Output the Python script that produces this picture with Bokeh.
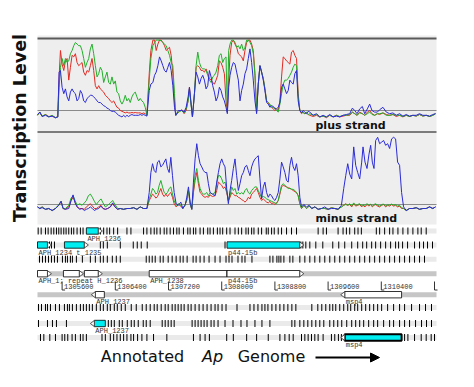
import numpy as np
from bokeh.plotting import figure
from bokeh.models import Range1d, Arrow, NormalHead
from bokeh.core.properties import value
from bokeh.embed import file_html
from bokeh.resources import INLINE

# ---------------------------------------------------------------- data
REGION_START = 1305230          # genome position at the left edge of the tracks
REGION_LEN = 6000               # bp shown

# plus-strand transcription: position (bp from REGION_START) and levels
PLUS_POS = [0, 35, 70, 120, 170, 220, 270, 305, 325, 345,
            370, 395, 420, 445, 470, 495, 520, 545, 570, 595,
            620, 645, 670, 695, 720, 745, 770, 795, 820, 845,
            870, 895, 920, 945, 970, 995, 1020, 1045, 1070, 1095,
            1120, 1145, 1170, 1195, 1220, 1245, 1270, 1295, 1320, 1345,
            1370, 1395, 1420, 1445, 1470, 1495, 1520, 1545, 1570, 1595,
            1620, 1645, 1680, 1705, 1735, 1760, 1785, 1810, 1835, 1860,
            1885, 1910, 1935, 1960, 1985, 2010, 2035, 2060, 2080, 2120,
            2170, 2205, 2235, 2265, 2285, 2305, 2330, 2360, 2385, 2410,
            2435, 2460, 2485, 2510, 2535, 2560, 2585, 2610, 2635, 2660,
            2685, 2710, 2735, 2760, 2785, 2810, 2835, 2855, 2875, 2895,
            2920, 2945, 2970, 2995, 3020, 3045, 3070, 3095, 3120, 3145,
            3170, 3195, 3220, 3245, 3270, 3295, 3320, 3345, 3370, 3395,
            3420, 3445, 3470, 3495, 3520, 3545, 3570, 3595, 3620, 3645,
            3670, 3695, 3720, 3745, 3770, 3795, 3820, 3845, 3870, 3895,
            3920, 3945, 3970, 3995, 4020, 4045, 4070, 4095, 4145, 4195,
            4245, 4295, 4345, 4395, 4445, 4495, 4545, 4595, 4645, 4695,
            4735, 4770, 4805, 4845, 4885, 4920, 4960, 4995, 5030, 5070,
            5110, 5145, 5195, 5245, 5295, 5345, 5395, 5445, 5495, 5545,
            5595, 5645, 5695, 5745, 5795, 5845, 5895, 5945, 5985]
PLUS_RED = [4, 8, 2.5, 5, 2.5, 3, 1, 2, 52, 85,
            68, 60, 72, 75, 48, 64, 79, 77, 81, 70,
            66, 68, 70, 58, 54, 60, 58, 66, 75, 60,
            41, 37, 41, 37, 35, 33, 29, 27, 25, 22,
            20, 22, 18, 14, 13, 10, 9, 8, 7, 8,
            7, 7, 7.5, 7, 7.5, 7, 7, 7, 6, 7,
            6, 4, 56, 85, 98, 98, 85, 93, 98, 98,
            95, 91, 85, 87, 89, 79, 56, 22, 4, 8,
            11, 6, 10, 22, 39, 22, 2, 31, 64, 66,
            64, 60, 60, 58, 62, 56, 50, 48, 45, 43,
            48, 54, 72, 70, 64, 56, 22, 8, 48, 79,
            95, 98, 93, 89, 81, 79, 77, 72, 85, 95,
            98, 98, 93, 85, 56, 8, 43, 66, 58, 50,
            37, 22, 20, 16, 14, 12, 10, 12, 10, 22,
            52, 77, 75, 72, 70, 68, 83, 85, 79, 75,
            31, 10, 6, 8, 6, 7, 5, 4, 2.5, 4,
            2, 3, 1, 4, 2, 4, 2, 3, 4, 4,
            8, 6, 4, 8, 6, 4, 8, 10, 6, 4,
            6, 5, 7, 5, 4, 5, 2.5, 4, 2, 4,
            2.5, 4, 3, 5, 3, 4, 2.5, 4, 6]
PLUS_GREEN = [4, 8, 3, 5, 2, 4, 1, 2, 39, 64,
              75, 66, 75, 70, 72, 81, 85, 91, 95, 93,
              91, 91, 85, 75, 64, 70, 75, 87, 93, 81,
              66, 52, 56, 64, 60, 45, 52, 58, 45, 43,
              52, 43, 47, 33, 31, 22, 18, 22, 29, 22,
              25, 20, 27, 31, 33, 27, 22, 25, 22, 20,
              14, 4, 48, 75, 91, 95, 98, 98, 98, 97,
              95, 93, 91, 85, 79, 70, 66, 31, 4, 8,
              10, 7, 12, 22, 37, 20, 2, 31, 66, 83,
              70, 64, 62, 62, 60, 54, 48, 45, 52, 54,
              58, 66, 79, 81, 70, 75, 77, 8, 85, 93,
              98, 98, 95, 89, 91, 87, 93, 85, 89, 98,
              98, 95, 91, 81, 54, 10, 43, 66, 58, 50,
              37, 22, 20, 18, 14, 14, 12, 10, 8, 18,
              31, 43, 48, 48, 50, 54, 58, 64, 68, 66,
              27, 10, 8, 7, 6, 8, 5, 6, 4, 5,
              2, 3, 2, 4, 2, 4, 2.5, 4, 4, 5,
              8, 6, 4, 7, 6, 4, 6, 8, 5, 4,
              6, 6, 7, 4, 4, 5, 4, 4, 2.5, 4,
              2.5, 4, 3, 5, 3, 4, 2.5, 4, 6]
PLUS_BLUE = [5, 8, 2.5, 4, 2, 3, 1, 2, 58, 60,
             39, 31, 37, 27, 22, 33, 37, 33, 31, 22,
             25, 35, 31, 22, 20, 25, 27, 29, 29, 27,
             25, 22, 20, 20, 18, 16, 15, 13, 12, 10,
             9, 9, 8, 6, 4, 3, 2, 4, 2, 4,
             2.5, 4, 5, 4, 4, 4, 4, 5, 4, 5,
             4, 3, 35, 43, 45, 54, 58, 66, 77, 72,
             66, 60, 58, 64, 70, 60, 41, 14, 4, 10,
             10, 8, 14, 27, 39, 22, 2, 31, 58, 52,
             43, 50, 54, 48, 37, 41, 60, 52, 41, 33,
             22, 27, 39, 35, 27, 22, 14, 6, 39, 54,
             64, 70, 68, 58, 48, 22, 35, 43, 56, 62,
             75, 87, 70, 48, 22, 6, 43, 66, 58, 48,
             35, 20, 18, 14, 16, 15, 13, 12, 14, 20,
             39, 43, 37, 31, 35, 48, 45, 43, 56, 60,
             22, 10, 7, 10, 8, 6, 9, 8, 4, 6,
             2, 4, 2, 5, 2, 3, 2, 4, 5, 6,
             13, 10, 6, 12, 15, 6, 12, 18, 10, 8,
             8, 11, 14, 8, 6, 7, 4, 6, 3, 5,
             3, 4, 4, 6, 4, 4, 3, 5, 6]

# minus-strand transcription
MINUS_POS = [0, 35, 70, 120, 170, 220, 270, 320, 355, 385,
             420, 470, 505, 535, 565, 595, 635, 670, 705, 735,
             765, 795, 825, 855, 885, 920, 955, 985, 1020, 1055,
             1095, 1130, 1165, 1205, 1245, 1295, 1345, 1395, 1445, 1495,
             1545, 1595, 1645, 1680, 1705, 1730, 1755, 1780, 1805, 1830,
             1855, 1880, 1905, 1930, 1955, 1980, 2005, 2030, 2055, 2085,
             2120, 2155, 2185, 2220, 2245, 2270, 2295, 2320, 2345, 2370,
             2395, 2420, 2445, 2470, 2495, 2520, 2545, 2570, 2595, 2630,
             2670, 2695, 2720, 2745, 2770, 2795, 2820, 2845, 2870, 2895,
             2920, 2945, 2970, 2995, 3020, 3045, 3070, 3095, 3120, 3145,
             3170, 3195, 3220, 3245, 3270, 3295, 3320, 3345, 3370, 3395,
             3420, 3445, 3470, 3495, 3520, 3545, 3570, 3595, 3620, 3645,
             3670, 3695, 3720, 3745, 3770, 3795, 3820, 3845, 3870, 3895,
             3920, 3945, 3970, 4005, 4045, 4085, 4125, 4170, 4220, 4270,
             4320, 4370, 4420, 4470, 4520, 4570, 4605, 4635, 4665, 4695,
             4725, 4755, 4785, 4815, 4845, 4875, 4895, 4925, 4955, 4985,
             5010, 5035, 5060, 5085, 5115, 5145, 5175, 5205, 5235, 5265,
             5295, 5325, 5355, 5385, 5415, 5445, 5475, 5505, 5545, 5595,
             5645, 5695, 5745, 5795, 5845, 5895, 5945, 5985]
MINUS_RED = [7, 5, 7, 4, 5, 2.5, 5, 9, 14, 5,
             4, 7, 15, 19, 13, 7, 5, 5, 4, 7,
             9, 11, 8, 5, 5, 7, 9, 5, 4, 5,
             7, 11, 7, 4, 5, 4, 5, 5, 6, 4,
             7, 5, 5, 15, 19, 23, 21, 18, 20, 25,
             30, 23, 20, 23, 20, 23, 25, 19, 11, 7,
             10, 8, 5, 10, 15, 27.5, 11, 4, 25, 40,
             50, 36, 25, 23, 20, 19, 20, 19, 22, 20,
             21, 27.5, 38, 36, 34, 30, 32, 25, 15, 19,
             25, 23, 21, 21, 19, 18, 16, 15, 13, 15,
             19, 17, 23, 25, 27.5, 30, 25, 19, 15, 17,
             15, 13, 12, 14, 11, 12, 10, 12, 15, 23,
             32, 34, 33, 32, 31, 30, 29, 27.5, 26, 25,
             21, 11, 5, 9, 5, 8, 5, 7, 4, 5,
             5, 4, 6, 5, 4, 7, 9, 11, 9, 10,
             7, 11, 8, 9, 10, 7, 9, 7, 10, 8,
             10, 7, 9, 10, 8, 7, 9, 10, 7, 9,
             8, 10, 8, 9, 7, 8, 5, 5, 2.5, 5,
             5, 6, 4, 5, 5, 7, 5, 7]
MINUS_GREEN = [7, 5, 7, 4, 5, 2.5, 5, 10, 14, 5,
               5, 9, 18, 21, 15, 9, 11, 9, 12, 15,
               21, 23, 19, 14, 10, 14, 17, 12, 7, 9,
               12, 15, 10, 5, 5, 4, 5, 5, 6, 4,
               7, 5, 5, 17, 23, 30, 27.5, 23, 25, 34,
               40, 32, 25, 23, 25, 30, 32, 23, 15, 9,
               11, 9, 5, 10, 16, 27.5, 11, 4, 27.5, 46,
               55, 40, 30, 25, 23, 23, 25, 21, 25, 23,
               25, 36, 46, 46, 42, 36, 38, 27.5, 15, 21,
               32, 27.5, 30, 23, 25, 23, 25, 23, 27.5, 30,
               25, 23, 27.5, 30, 32, 32, 27.5, 23, 19, 20,
               19, 17, 16, 15, 14, 13, 12, 11, 15, 25,
               34, 36, 34, 32, 30, 30.5, 29, 29, 27.5, 25,
               21, 11, 5, 9, 5, 8, 5, 7, 4, 5,
               5, 4, 6, 5, 4, 7, 9, 10, 9, 11,
               8, 12, 9, 10, 11, 8, 10, 9, 11, 9,
               10.5, 8, 10, 11, 9, 8, 10, 10.5, 8, 10,
               9, 10.5, 9, 10, 8, 9, 6, 5, 2.5, 5,
               5, 6, 4, 5, 5, 7, 5, 7]
MINUS_BLUE = [7, 5, 6, 4, 5, 2.5, 5, 9, 14, 5,
              4, 5, 15, 22, 12, 7, 4, 5, 2.5, 4,
              5, 7, 5, 2.5, 4, 5, 8, 5, 4, 5,
              7, 12, 7, 4, 5, 4, 5, 5, 6, 4,
              7, 5, 5, 25, 50, 61, 52.5, 50, 63, 65,
              57, 59, 63, 67, 55, 50, 69, 46, 25, 11,
              9, 13, 5, 9, 19, 32, 13, 4, 38, 67,
              86, 71, 61, 57, 52.5, 50, 50, 36, 25, 23,
              21, 38, 50, 61, 67, 61, 57, 30, 11, 27.5,
              40, 55, 67, 46, 27.5, 36, 46, 50, 57, 59,
              52.5, 46, 57, 63, 67, 69, 71, 42, 17, 32,
              38, 25, 19, 23, 21, 17, 15, 19, 25, 42,
              63, 57, 50, 40, 38, 59, 69, 57, 52.5, 61,
              46, 19, 7, 10, 7, 9, 5, 7, 4, 5,
              7, 4, 5, 5, 4, 9, 30, 46, 61, 48,
              42, 82, 59, 50, 42, 63, 82, 63, 55, 73,
              84, 63, 55, 90, 94, 86, 88, 90, 84, 86,
              80, 92, 94, 92, 63, 59, 25, 7, 2.5, 5,
              5, 6, 4, 5, 5, 7, 5, 7]

# stop codons in the six reading frames (bp from REGION_START)
STOPS_F1 = [10, 55, 120, 160, 205, 245, 285, 320, 355, 395, 430, 470, 510, 545, 595,
            645, 685, 945, 995, 1045, 1085, 1145, 1205, 1345, 1405, 1595, 1645, 1705,
            1755, 1795, 1845, 1905, 1945, 1995, 2045, 2095, 2130, 2195, 2260, 2295,
            2345, 2380, 2445, 2495, 2560, 2595, 2645, 2705, 2745, 2785, 2845, 2895,
            2970, 3020, 3070, 3135, 3170, 3220, 3255, 3320, 3370, 3440, 3470, 3520,
            3560, 3620, 3670, 3745, 3820, 3895, 4220, 4295, 4345, 4520, 4595, 4645,
            4695, 4770, 4820, 4870, 5095, 5145, 5220, 5295, 5345, 5420, 5495, 5570,
            5645, 5720, 5770, 5845]
STOPS_F2 = [180, 210, 255, 945, 990, 1050, 1245, 1440, 1500, 1560, 1650, 2820,
            3960, 3990, 4035, 4095, 4185, 4290, 4440, 4530, 4620, 4725, 4815, 4890,
            4950, 5025, 5085, 5160, 5235, 5310, 5385, 5430, 5490, 5565, 5670, 5745,
            5805, 5865, 5940]
STOPS_F3 = [30, 75, 120, 165, 210, 255, 300, 375, 420, 450, 495, 525, 585, 675, 795,
            870, 945, 990, 1050, 1125, 1185, 1245, 1635, 1680, 1725, 1770, 1845, 1890,
            1965, 2025, 2085, 2145, 2190, 2250, 2340, 2385, 2445, 2505, 2580, 2670,
            2745, 2835, 2880, 2925, 3015, 3075, 3120, 3225, 3495, 3540, 3600, 3630,
            3660, 3705, 3795, 3840, 3945, 4020, 4095, 4170, 4245, 4320, 4395, 4470,
            4545, 4620, 4695, 4770, 4845, 4920, 4995, 5070, 5145, 5220, 5295, 5370,
            5445, 5520, 5595, 5670, 5745, 5820]
STOPS_R1 = [15, 60, 120, 150, 195, 270, 330, 405, 450, 480, 525, 585, 645, 690, 735,
            780, 825, 885, 945, 990, 1050, 1095, 1155, 1200, 1260, 1320, 1410, 1485,
            1575, 1635, 1695, 1755, 1800, 1860, 1920, 1965, 2025, 2070, 2115, 2160,
            2205, 2265, 2310, 2370, 2430, 2490, 2550, 2610, 2670, 2715, 2775, 2835,
            3000, 3195, 3255, 3315, 3375, 3420, 3465, 3525, 3585, 3645, 3705, 3765,
            3825, 3885, 4125, 4215, 4275, 4335, 4395, 4440, 4485, 4545, 4605, 4665,
            4710, 4770, 4815, 4875, 4935, 4995, 5055, 5115, 5175, 5265, 5355, 5445,
            5520, 5625, 5745, 5835, 5925]
STOPS_R2 = [15, 150, 225, 285, 435, 1065, 1110, 1155, 1230, 1275, 1350, 1410, 1455,
            1515, 1590, 1635, 1695, 1875, 1920, 1965, 2010, 2055, 2325, 2370, 2415,
            2460, 2505, 2550, 2610, 2655, 2715, 2820, 2940, 3060, 3150, 3270, 3375,
            3495, 3825, 3870, 3945, 4005, 4065, 4125, 4185, 4245, 4305, 4395, 4455,
            4515, 4575, 4650, 4725, 4785, 4845, 4905, 4980, 5055, 5115, 5205, 5295,
            5355, 5445, 5520, 5595, 5685, 5775, 5850, 5925]
STOPS_R3 = [45, 95, 185, 270, 370, 410, 455, 520, 570, 645, 685, 735, 970, 1020, 1095,
            1145, 1195, 1245, 1295, 1345, 1405, 1445, 1505, 1570, 1645, 1745, 1945,
            2345, 2445, 2520, 2585, 2845, 2945, 3145, 3295, 3470, 3645, 3720, 3785,
            3845, 3970, 4020, 4070, 4120, 4170, 4220, 4295, 4420, 4470, 4525, 4570,
            5520, 5570, 5670, 5770, 5845, 5920, 5970]

# open reading frames that match annotated genes (cyan)
ORF_START = [735, 0, 405, 2850, 855, 4620]
ORF_END = [915, 150, 705, 3945, 1020, 5475]
ORF_FRAME = ["+1", "+2", "+2", "+2", "-2", "-3"]
ORF_LABEL = ["APH_1236", "APH_1234 t_1235", "", "p44-15b", "APH_1237", "msp4"]

# annotated genes on the two strands
GENE_START = [0, 390, 705, 1680, 2850, 870, 4620]
GENE_END = [150, 630, 915, 2850, 3945, 1005, 5475]
GENE_STRAND = [1, 1, 1, 1, 1, -1, -1]
GENE_LABEL = ["APH_1; repeat H_1236", "", "", "APH_1238", "p44-15b", "APH_1237", "msp4"]

# genome coordinate ruler
COORD_TICKS = [1305600, 1306400, 1307200, 1308000, 1308800, 1309600, 1310400, 1311200]
COORD_LABELS = ["1305600", "1306400", "1307200", "1308000", "1308800", "1309600", "1310400", ""]

# ---------------------------------------------------------------- layout
W, H, M = 474, 387, 0        # page template has no body margin
TRACK_L_PX, TRACK_R_PX = 37, 436
BP_PER_PX = REGION_LEN / (TRACK_R_PX - TRACK_L_PX)


def px2bp(px):
    return REGION_START + (px - TRACK_L_PX) * BP_PER_PX


LV = 0.8                      # pixels per level unit
PLUS_ZERO_Y, MINUS_ZERO_Y = 118, 212
X0, X1 = REGION_START, REGION_START + REGION_LEN
RED, GREEN, BLUE = "#e22a22", "#22b02a", "#2b2bd8"
CYAN = "#00eef2"
FRAME_Y = {"+1": 230.5, "+2": 244.5, "+3": 258.7, "-1": 307.0, "-2": 323.0, "-3": 337.0}
STRAND_Y = {1: 273.2, -1: 294.2}
AH = 4 * BP_PER_PX            # arrow-head length
MONO = value("Liberation Mono")

p = figure(width=W, height=H, output_backend="svg", toolbar_location=None,
           x_range=Range1d(px2bp(M), px2bp(M + W)), y_range=Range1d(M + H, M),
           x_axis_location=None, y_axis_location=None, min_border=0,
           outline_line_color=None, background_fill_color="white",
           border_fill_color="white")
p.grid.visible = False
p.extra_y_ranges = {
    "plus": Range1d((PLUS_ZERO_Y - (M + H)) / LV, (PLUS_ZERO_Y - M) / LV),
    "minus": Range1d((MINUS_ZERO_Y - (M + H)) / LV, (MINUS_ZERO_Y - M) / LV),
}

# transcription panels
p.quad(left=[X0, X0], right=[X1, X1], top=[35, 131.5], bottom=[131.5, 224],
       fill_color="#eeeeee", line_color=None)
p.segment(x0=[X0], x1=[X1], y0=[100], y1=[100], y_range_name="plus",
          line_color="#5a5a5a", line_width=2)
for rng in ("plus", "minus"):
    p.segment(x0=[X0], x1=[X1], y0=[10], y1=[10], y_range_name=rng,
              line_color="#8a8a8a", line_width=1)
p.segment(x0=[X0], x1=[X1], y0=[131.5], y1=[131.5], line_color="#555555", line_width=1.5)

px_plus = REGION_START + np.array(PLUS_POS)
px_minus = REGION_START + np.array(MINUS_POS)
for ys, c in ((PLUS_RED, RED), (PLUS_GREEN, GREEN), (PLUS_BLUE, BLUE)):
    p.line(px_plus, ys, y_range_name="plus", line_color=c, line_width=1)
for ys, c in ((MINUS_RED, RED), (MINUS_GREEN, GREEN), (MINUS_BLUE, BLUE)):
    p.line(px_minus, ys, y_range_name="minus", line_color=c, line_width=1)

p.text(x=[px2bp(315)], y=[125], text=["plus strand"], text_align="left",
       text_baseline="middle", text_font=value("DejaVu Sans"), text_font_style="bold",
       text_font_size="11px", text_color="#111111")
p.text(x=[px2bp(315)], y=[218], text=["minus strand"], text_align="left",
       text_baseline="middle", text_font=value("DejaVu Sans"), text_font_style="bold",
       text_font_size="11px", text_color="#111111")
p.text(x=[px2bp(19)], y=[127.5], text=["Transcription Level"], angle=np.pi / 2,
       text_align="center", text_baseline="middle", text_font=value("DejaVu Sans"),
       text_font_style="bold", text_font_size="17.5px", text_color="#111111")

# stop-codon rows
for stops, fr in ((STOPS_F1, "+1"), (STOPS_F2, "+2"), (STOPS_F3, "+3"),
                  (STOPS_R1, "-1"), (STOPS_R2, "-2"), (STOPS_R3, "-3")):
    yc = FRAME_Y[fr]
    p.quad(left=[X0], right=[X1], top=[yc - 2.5], bottom=[yc + 2.5],
           fill_color="#eaeaea", line_color=None)
    xs = REGION_START + np.array(stops)
    p.segment(x0=xs, x1=xs, y0=[yc - 3.5] * len(xs), y1=[yc + 3.5] * len(xs),
              line_color="black", line_width=1)

# strand tracks
for s in (1, -1):
    yc = STRAND_Y[s]
    p.quad(left=[X0], right=[X1], top=[yc - 2.5], bottom=[yc + 2.5],
           fill_color="#c6c6c6", line_color=None)


def gene_box(start, end, yc, direction, fill, lw=0.8):
    x0 = REGION_START + start
    x1 = REGION_START + end
    p.quad(left=[x0], right=[x1], top=[yc - 3.2], bottom=[yc + 3.2],
           fill_color=fill, line_color="black", line_width=lw)
    if direction > 0:
        tx = [x1, x1 + AH, x1]
    else:
        tx = [x0, x0 - AH, x0]
    p.patch(tx, [yc - 3, yc, yc + 3], fill_color="white", line_color="#333333",
            line_width=0.8)


for st, en, fr, lab in zip(ORF_START, ORF_END, ORF_FRAME, ORF_LABEL):
    yc = FRAME_Y[fr]
    gene_box(st, en, yc, 1 if fr[0] == "+" else -1, CYAN, 2 if fr == "-3" else 0.8)
    if lab:
        p.text(x=[REGION_START + st], y=[yc + 7.5], text=[lab], x_offset=1,
               text_align="left", text_baseline="middle", text_font=MONO,
               text_font_size="7px", text_color="#333333")

for st, en, s, lab in zip(GENE_START, GENE_END, GENE_STRAND, GENE_LABEL):
    yc = STRAND_Y[s]
    gene_box(st, en, yc, s, "white", 0.8)
    if lab:
        p.text(x=[REGION_START + st], y=[yc + 7.5], text=[lab], x_offset=1,
               text_align="left", text_baseline="middle", text_font=MONO,
               text_font_size="7px", text_color="#333333")

# coordinate ruler
ct = np.array(COORD_TICKS)
p.segment(x0=ct, x1=ct, y0=[281] * len(ct), y1=[289.5] * len(ct),
          line_color="#333333", line_width=1)
p.segment(x0=ct, x1=ct + 3 * BP_PER_PX, y0=[289.5] * len(ct), y1=[289.5] * len(ct),
          line_color="#333333", line_width=1)
p.text(x=ct, y=[286] * len(ct), text=COORD_LABELS, x_offset=2, text_align="left",
       text_baseline="middle", text_font=MONO, text_font_size="7px",
       text_color="#333333")

# bottom caption
for word, cx, style in (("Annotated", 142, "normal"), ("Ap", 212, "italic"),
                        ("Genome", 271, "normal")):
    p.text(x=[px2bp(cx)], y=[356], text=[word], text_align="center",
           text_baseline="middle", text_font=value("DejaVu Sans"),
           text_font_style=style, text_font_size="16px", text_color="#111111")
p.add_layout(Arrow(end=NormalHead(size=9, fill_color="black", line_color="black"),
                   x_start=px2bp(315), y_start=357, x_end=px2bp(379), y_end=357,
                   line_width=2, line_color="black"))

open("out.html", "w").write(file_html(p, INLINE))
